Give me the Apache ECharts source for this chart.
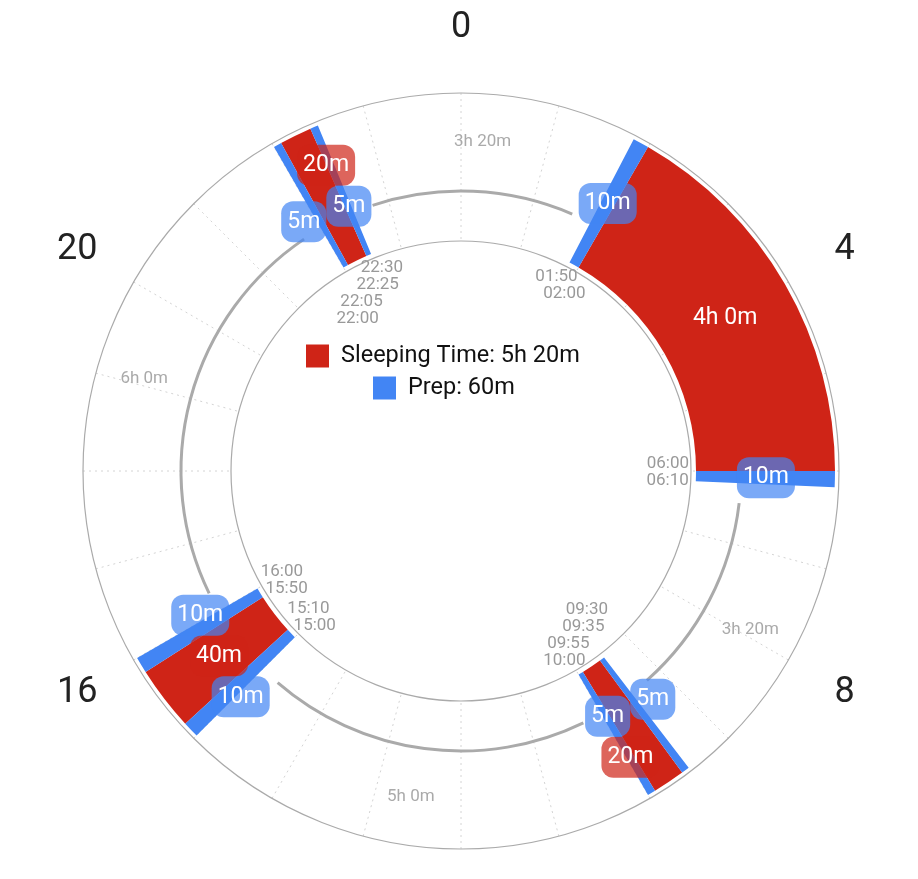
<!DOCTYPE html>
<html>
<head>
<meta charset="utf-8">
<title>Sleep schedule</title>
<script src="https://cdn.jsdelivr.net/npm/echarts@6/dist/echarts.min.js"></script>
<style>
  html, body { margin: 0; padding: 0; background: #fff; }
  #main { width: 918px; height: 879px; }
</style>
</head>
<body>
<div id="main"></div>
<script>
// hour labels round the dial
var hourTicks = [0, 4, 8, 12, 16, 20];
// sleep blocks (24h clock)
var sleepStart = ['02:00', '22:05', '09:35', '15:10'];
var sleepEnd   = ['06:00', '22:25', '09:55', '15:50'];
// prep blocks
var prepStart = ['01:50', '06:00', '22:00', '22:25', '09:30', '09:55', '15:00', '15:50'];
var prepEnd   = ['02:00', '06:10', '22:05', '22:30', '09:35', '10:00', '15:10', '16:00'];

var RED = '#CF2417', BLUE = '#4285F4';
var RED_BADGE = 'rgba(207,36,23,0.7)', BLUE_BADGE = 'rgba(66,133,244,0.7)';
var FONT = 'Roboto';
var R_IN = 230, R_OUT = 378;         // ring (radius axis range)
var R_BLOCK = [235, 374];            // blocks
var R_AWAKE = 280, R_AWAKE_TEXT = 330, R_BADGE = 305, R_EDGE = 228, R_HOUR = 443;

function toMin(s) { var p = s.split(':'); return +p[0] * 60 + +p[1]; }
function pad(n) { return (n < 10 ? '0' : '') + n; }
function fmtTime(m) { m = (m + 1440) % 1440; return pad(Math.floor(m / 60)) + ':' + pad(m % 60); }
function fmtDur(m) { return m > 60 ? Math.floor(m / 60) + 'h ' + (m % 60) + 'm' : m + 'm'; }

function makeBlocks(starts, ends, kind) {
  var out = [];
  for (var i = 0; i < starts.length; i++) {
    var s = toMin(starts[i]), e = toMin(ends[i]);
    var d = (e - s + 1440) % 1440;
    out.push({ start: s, end: s + d, dur: d, kind: kind });
  }
  return out;
}
var sleep = makeBlocks(sleepStart, sleepEnd, 'sleep');
var prep = makeBlocks(prepStart, prepEnd, 'prep');
var allBlocks = sleep.concat(prep);

var totals = { 'Sleeping Time': 0, 'Prep': 0 };
sleep.forEach(function (b) { totals['Sleeping Time'] += b.dur; });
prep.forEach(function (b) { totals['Prep'] += b.dur; });

// awake gaps between the merged blocks
var sorted = allBlocks.slice().sort(function (a, b) { return a.start - b.start; });
var merged = [];
sorted.forEach(function (b) {
  var last = merged[merged.length - 1];
  if (last && b.start <= last.end) last.end = Math.max(last.end, b.end);
  else merged.push({ start: b.start, end: b.end });
});
var awake = [];
for (var i = 0; i < merged.length; i++) {
  var a = merged[i], nx = merged[(i + 1) % merged.length];
  var s = a.end, e = nx.start + (i === merged.length - 1 ? 1440 : 0);
  awake.push({ start: s, end: e, dur: e - s });
}

// every block edge gets a time label
var edgeTimes = [];
allBlocks.forEach(function (b) {
  [b.start % 1440, b.end % 1440].forEach(function (t) {
    if (edgeTimes.indexOf(t) < 0) edgeTimes.push(t);
  });
});

var measureCtx = document.createElement('canvas').getContext('2d');
function textWidth(str, size) {
  measureCtx.font = size + 'px ' + FONT;
  return measureCtx.measureText(str).width;
}

function angleOf(api, cs, h) {
  var p = api.coord([R_OUT, h]);
  return Math.atan2(p[1] - cs.cy, p[0] - cs.cx);
}
function radiusOf(api, cs, r) {
  var p = api.coord([r, 0]);
  return Math.sqrt((p[0] - cs.cx) * (p[0] - cs.cx) + (p[1] - cs.cy) * (p[1] - cs.cy));
}

function renderBlock(color) {
  return function (params, api) {
    var cs = params.coordSys;
    var a0 = angleOf(api, cs, api.value(0)), a1 = angleOf(api, cs, api.value(1));
    if (a1 <= a0) a1 += Math.PI * 2;
    return {
      type: 'sector',
      shape: {
        cx: cs.cx, cy: cs.cy,
        r0: radiusOf(api, cs, R_BLOCK[0]), r: radiusOf(api, cs, R_BLOCK[1]),
        startAngle: a0, endAngle: a1, clockwise: true
      },
      style: { fill: color }
    };
  };
}

// awake arcs, inset a little from the blocks
function renderAwake(params, api) {
  var cs = params.coordSys;
  var r = radiusOf(api, cs, R_AWAKE);
  var a0 = angleOf(api, cs, api.value(0)), a1 = angleOf(api, cs, api.value(1));
  if (a1 <= a0) a1 += Math.PI * 2;
  var inset = 20 / r;
  var mid = ((api.value(0) + api.value(1)) / 2 + 5 / 60) % 24;
  var p = api.coord([R_AWAKE_TEXT, mid]);
  return {
    type: 'group',
    children: [{
      type: 'arc',
      shape: { cx: cs.cx, cy: cs.cy, r: r, startAngle: a0 + inset, endAngle: a1 - inset, clockwise: true },
      style: { fill: 'none', stroke: '#aaa', lineWidth: 3 }
    }, {
      type: 'text', x: p[0], y: p[1],
      style: {
        text: fmtDur(api.value(2)), fill: '#aaa', fontSize: 17, fontFamily: FONT,
        align: 'center', verticalAlign: 'middle'
      }
    }]
  };
}

// edge time labels, stacked towards the centre when they collide
var edgeLayout = null;
var EDGE_SIZE = 17, EDGE_LINE = 17;
function layoutEdges(api, cs) {
  var list = edgeTimes.map(function (t) {
    var p = api.coord([R_EDGE, t / 60]);
    var dx = p[0] - cs.cx, dy = p[1] - cs.cy, d = Math.sqrt(dx * dx + dy * dy);
    var ux = dx / d, uy = dy / d;
    var txt = fmtTime(t), w = textWidth(txt, EDGE_SIZE);
    return { text: txt, w: w, uy: uy, x: p[0] - ux * w / 2, y: p[1] - uy * EDGE_SIZE / 2 };
  });
  var order = list.slice().sort(function (a, b) { return Math.abs(b.y - cs.cy) - Math.abs(a.y - cs.cy); });
  var placed = [];
  order.forEach(function (lb) {
    var guard = 0;
    while (guard++ < 30) {
      var hit = null;
      for (var k = 0; k < placed.length; k++) {
        var o = placed[k];
        if (Math.abs(o.x - lb.x) < (o.w + lb.w) / 2 && Math.abs(o.y - lb.y) < EDGE_LINE - 0.01) { hit = o; break; }
      }
      if (!hit) break;
      var dir = lb.uy < -0.05 ? 1 : (lb.uy > 0.05 ? -1 : (lb.y <= hit.y ? -1 : 1));
      lb.y = hit.y + dir * EDGE_LINE;
    }
    placed.push(lb);
  });
  return list;
}
function renderEdge(params, api) {
  if (params.dataIndex === 0 || !edgeLayout) edgeLayout = layoutEdges(api, params.coordSys);
  var lb = edgeLayout[params.dataIndex];
  return {
    type: 'text', x: lb.x, y: lb.y,
    style: {
      text: lb.text, fill: '#999', fontSize: EDGE_SIZE, fontFamily: FONT,
      align: 'center', verticalAlign: 'middle'
    }
  };
}

// duration badges, pushed apart where they overlap
var badgeLayout = null;
var BADGE_SIZE = 23, BADGE_PAD = [9, 6];
function layoutBadges(api) {
  var list = allBlocks.map(function (b) {
    var mid = ((b.start + b.end) / 2 % 1440) / 60;
    var p = api.coord([R_BADGE, mid]);
    var txt = fmtDur(b.dur);
    var plain = b.dur >= 60;
    return {
      text: txt, plain: plain, kind: b.kind, x: p[0], y: p[1],
      w: textWidth(txt, BADGE_SIZE) + BADGE_PAD[1] * 2,
      h: BADGE_SIZE + BADGE_PAD[0] * 2
    };
  });
  for (var it = 0; it < 200; it++) {
    var moved = false;
    for (var i = 0; i < list.length; i++) {
      for (var j = i + 1; j < list.length; j++) {
        var a = list[i], b = list[j];
        var dx = b.x - a.x, dy = b.y - a.y;
        var ox = (a.w + b.w) / 2 - Math.abs(dx), oy = (a.h + b.h) / 2 - Math.abs(dy);
        if (ox > 0.5 && oy > 0.5) {
          moved = true;
          if (ox < oy) {
            var sx = (dx >= 0 ? 1 : -1) * ox / 2; a.x -= sx; b.x += sx;
          } else {
            var sy = (dy >= 0 ? 1 : -1) * oy / 2; a.y -= sy; b.y += sy;
          }
        }
      }
    }
    if (!moved) break;
  }
  return list;
}
function renderBadge(params, api) {
  if (params.dataIndex === 0 || !badgeLayout) badgeLayout = layoutBadges(api);
  var lb = badgeLayout[params.dataIndex];
  var style = {
    text: lb.text, fill: '#fff', fontSize: BADGE_SIZE, fontFamily: FONT, lineHeight: BADGE_SIZE,
    align: 'center', verticalAlign: 'middle'
  };
  if (!lb.plain) {
    style.backgroundColor = lb.kind === 'sleep' ? RED_BADGE : BLUE_BADGE;
    style.padding = BADGE_PAD;
    style.borderRadius = 12;
  }
  return { type: 'text', x: lb.x, y: lb.y, style: style };
}

function renderHour(params, api) {
  var p = api.coord([R_HOUR, api.value(0)]);
  return {
    type: 'text', x: p[0], y: p[1],
    style: {
      text: String(api.value(0)), fill: '#222', fontSize: 36, fontFamily: FONT,
      align: 'center', verticalAlign: 'middle'
    }
  };
}

var chart = echarts.init(document.getElementById('main'));
var legendText = { fontSize: 23.5, color: '#111', fontFamily: FONT, padding: [0, 0, 0, 7] };
chart.setOption({
  animation: false,
  backgroundColor: '#fff',
  textStyle: { fontFamily: FONT },
  polar: { center: [461, 471], radius: [R_IN, R_OUT] },
  angleAxis: {
    type: 'value', min: 0, max: 24, interval: 1,
    startAngle: 90, clockwise: true,
    axisLine: { lineStyle: { color: '#aaa', width: 1.2 } },
    axisTick: { show: false },
    axisLabel: { show: false },
    splitLine: { show: true, lineStyle: { color: '#d4d4d4', width: 1, type: [2, 4] } }
  },
  radiusAxis: { type: 'value', min: R_IN, max: R_OUT, show: false },
  legend: [{
    data: ['Sleeping Time'], left: 306, top: 344, padding: 0,
    icon: 'rect', itemWidth: 23, itemHeight: 23, selectedMode: false,
    textStyle: legendText,
    formatter: function (name) { return name + ': ' + fmtDur(totals[name]); }
  }, {
    data: ['Prep'], left: 373, top: 376, padding: 0,
    icon: 'rect', itemWidth: 23, itemHeight: 23, selectedMode: false,
    textStyle: legendText,
    formatter: function (name) { return name + ': ' + fmtDur(totals[name]); }
  }],
  series: [{
    name: 'Awake', type: 'custom', coordinateSystem: 'polar', z: 2, silent: true,
    data: awake.map(function (g) { return [g.start / 60, g.end / 60, g.dur]; }),
    renderItem: renderAwake
  }, {
    name: 'Sleeping Time', type: 'custom', coordinateSystem: 'polar', z: 3,
    itemStyle: { color: RED },
    data: sleep.map(function (b) { return [b.start / 60, b.end / 60]; }),
    renderItem: renderBlock(RED)
  }, {
    name: 'Prep', type: 'custom', coordinateSystem: 'polar', z: 4,
    itemStyle: { color: BLUE },
    data: prep.map(function (b) { return [b.start / 60, b.end / 60]; }),
    renderItem: renderBlock(BLUE)
  }, {
    name: 'Edge times', type: 'custom', coordinateSystem: 'polar', z: 5, silent: true,
    data: edgeTimes.map(function (t) { return [t / 60]; }),
    renderItem: renderEdge
  }, {
    name: 'Durations', type: 'custom', coordinateSystem: 'polar', z: 6, silent: true,
    data: allBlocks.map(function (b) { return [b.start / 60, b.end / 60]; }),
    renderItem: renderBadge
  }, {
    name: 'Hours', type: 'custom', coordinateSystem: 'polar', z: 6, silent: true,
    data: hourTicks.map(function (h) { return [h]; }),
    renderItem: renderHour
  }]
});
</script>
</body>
</html>
